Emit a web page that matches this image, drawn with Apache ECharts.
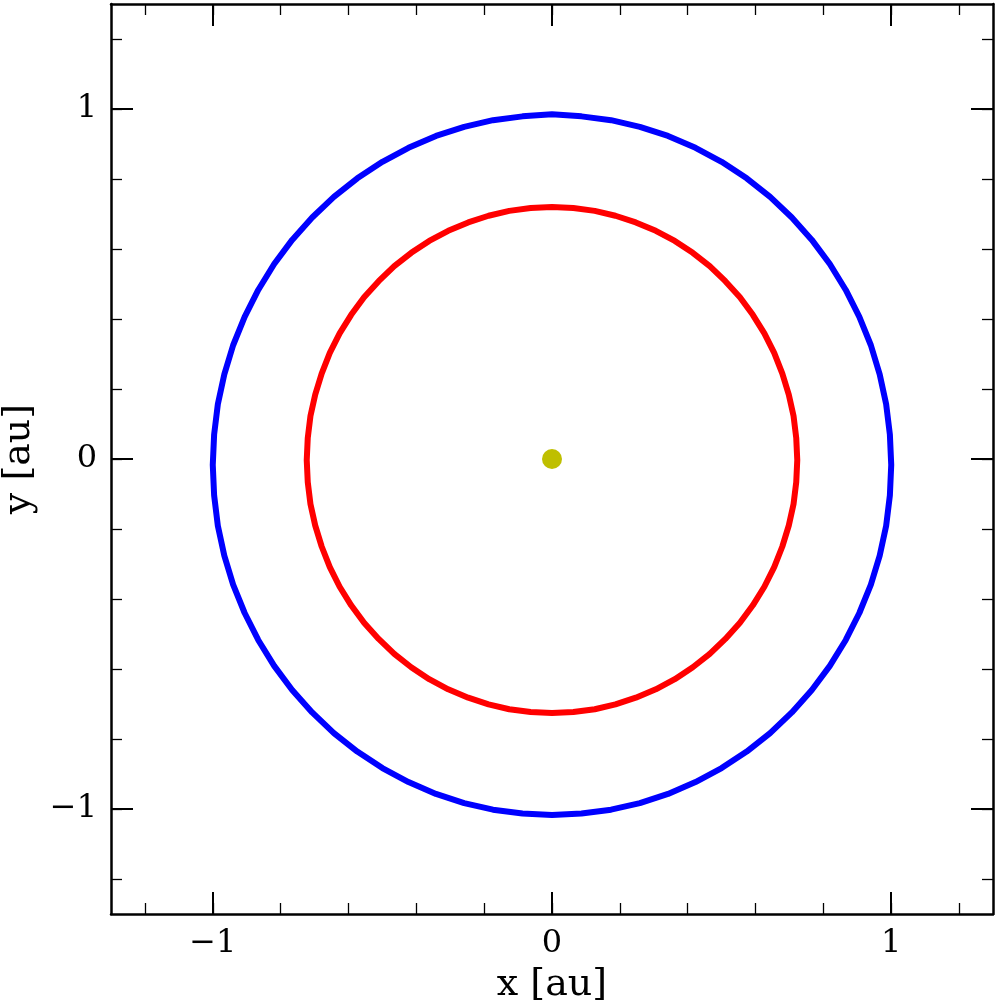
<!DOCTYPE html>
<html>
<head>
<meta charset="utf-8">
<script src="https://cdn.jsdelivr.net/npm/echarts@6/dist/echarts.min.js"></script>
<style>html,body{margin:0;padding:0;background:#fff}#c{width:1000px;height:1007px}</style>
</head>
<body>
<div id="c"></div>
<script>
// Orbit points (au), every 5 degrees around each orbit
var earthOrbit = [
  [1.000,-0.017],[0.996,0.070],[0.985,0.157],[0.966,0.242],[0.940,0.325],[0.906,0.406],[0.866,0.483],[0.819,0.557],[0.766,0.626],[0.707,0.690],
  [0.643,0.749],[0.574,0.802],[0.500,0.849],[0.423,0.889],[0.342,0.923],[0.259,0.949],[0.174,0.968],[0.087,0.979],[0.000,0.985],
  [-0.087,0.979],[-0.174,0.968],[-0.259,0.949],[-0.342,0.923],[-0.423,0.889],[-0.500,0.849],[-0.574,0.802],[-0.643,0.749],[-0.707,0.690],
  [-0.766,0.626],[-0.819,0.557],[-0.866,0.483],[-0.906,0.406],[-0.940,0.325],[-0.966,0.242],[-0.985,0.157],[-0.996,0.070],[-1.000,-0.017],
  [-0.996,-0.104],[-0.985,-0.191],[-0.966,-0.276],[-0.940,-0.359],[-0.906,-0.440],[-0.866,-0.517],[-0.819,-0.591],[-0.766,-0.660],[-0.707,-0.724],
  [-0.643,-0.783],[-0.574,-0.836],[-0.500,-0.883],[-0.423,-0.923],[-0.342,-0.957],[-0.259,-0.983],[-0.174,-1.002],[-0.087,-1.013],[0.000,-1.017],
  [0.087,-1.013],[0.174,-1.002],[0.259,-0.983],[0.342,-0.957],[0.423,-0.923],[0.500,-0.883],[0.574,-0.836],[0.643,-0.783],[0.707,-0.724],
  [0.766,-0.660],[0.819,-0.591],[0.866,-0.517],[0.906,-0.440],[0.940,-0.359],[0.966,-0.276],[0.985,-0.191],[0.996,-0.104],[1.000,-0.017],[0.996,0.070]
];
var venusOrbit = [
  [0.723,-0.003],[0.720,0.060],[0.712,0.123],[0.698,0.184],[0.679,0.244],[0.655,0.303],[0.626,0.359],[0.592,0.412],[0.554,0.462],[0.511,0.508],
  [0.465,0.551],[0.415,0.589],[0.362,0.623],[0.306,0.652],[0.247,0.676],[0.187,0.695],[0.126,0.709],[0.063,0.717],[0.000,0.720],
  [-0.063,0.717],[-0.126,0.709],[-0.187,0.695],[-0.247,0.676],[-0.306,0.652],[-0.362,0.623],[-0.415,0.589],[-0.465,0.551],[-0.511,0.508],
  [-0.554,0.462],[-0.592,0.412],[-0.626,0.359],[-0.655,0.303],[-0.679,0.244],[-0.698,0.184],[-0.712,0.123],[-0.720,0.060],[-0.723,-0.003],
  [-0.720,-0.066],[-0.712,-0.129],[-0.698,-0.190],[-0.679,-0.250],[-0.655,-0.309],[-0.626,-0.365],[-0.592,-0.418],[-0.554,-0.468],[-0.511,-0.514],
  [-0.465,-0.557],[-0.415,-0.595],[-0.362,-0.629],[-0.306,-0.658],[-0.247,-0.682],[-0.187,-0.701],[-0.126,-0.715],[-0.063,-0.723],[0.000,-0.726],
  [0.063,-0.723],[0.126,-0.715],[0.187,-0.701],[0.247,-0.682],[0.306,-0.658],[0.362,-0.629],[0.415,-0.595],[0.465,-0.557],[0.511,-0.514],
  [0.554,-0.468],[0.592,-0.418],[0.626,-0.365],[0.655,-0.309],[0.679,-0.250],[0.698,-0.190],[0.712,-0.129],[0.720,-0.066],[0.723,-0.003],[0.720,0.060]
];
var sunPosition = [[0, 0]];
var axisRange = [-1.3, 1.3];
var majorTicks = [-1, 0, 1];
var minorTicks = [-1.2, -1.0, -0.8, -0.6, -0.4, -0.2, 0, 0.2, 0.4, 0.6, 0.8, 1.0, 1.2];

var FONT = 'DejaVu Serif';
function fmt(v) { return v < 0 ? '\u2212' + Math.abs(v) : String(v); }

function makeAxis(pos, kind, name) {
  var major = kind === 'major';
  var ax = {
    type: 'value',
    position: pos,
    min: axisRange[0],
    max: axisRange[1],
    splitLine: { show: false },
    axisLine: { show: major, onZero: false, lineStyle: { color: '#000', width: 2.5 } },
    axisTick: {
      show: true, inside: true,
      length: major ? 22 : 11,
      customValues: major ? majorTicks : minorTicks,
      lineStyle: { color: '#000', width: major ? 2 : 1.3 }
    },
    axisLabel: { show: false }
  };
  if (major && (pos === 'bottom' || pos === 'left')) {
    ax.axisLabel = {
      show: true, customValues: majorTicks, formatter: fmt,
      fontFamily: FONT, fontSize: 32, color: '#000',
      margin: 14
    };
    ax.name = name;
    ax.nameLocation = 'middle';
    ax.nameGap = pos === 'bottom' ? 52 : 73;
    ax.nameTextStyle = { fontFamily: FONT, fontSize: 38, color: '#000' };
  }
  return ax;
}

var chart = echarts.init(document.getElementById('c'));
chart.setOption({
  animation: false,
  backgroundColor: '#fff',
  grid: { left: 111, right: 7, top: 4, bottom: 93, containLabel: false, outerBoundsMode: 'none' },
  xAxis: [makeAxis('bottom', 'major', 'x [au]'), makeAxis('bottom', 'minor'), makeAxis('top', 'major'), makeAxis('top', 'minor')],
  yAxis: [makeAxis('left', 'major', 'y [au]'), makeAxis('left', 'minor'), makeAxis('right', 'major'), makeAxis('right', 'minor')],
  series: [
    { type: 'line', xAxisIndex: 0, yAxisIndex: 0, data: earthOrbit, showSymbol: false, smooth: false,
      lineStyle: { color: '#0000ff', width: 6, join: 'round' } },
    { type: 'line', xAxisIndex: 0, yAxisIndex: 0, data: venusOrbit, showSymbol: false, smooth: false,
      lineStyle: { color: '#ff0000', width: 6, join: 'round' } },
    { type: 'scatter', xAxisIndex: 0, yAxisIndex: 0, data: sunPosition, symbolSize: 20,
      itemStyle: { color: '#bfbf00', opacity: 1 } }
  ]
});
</script>
</body>
</html>
